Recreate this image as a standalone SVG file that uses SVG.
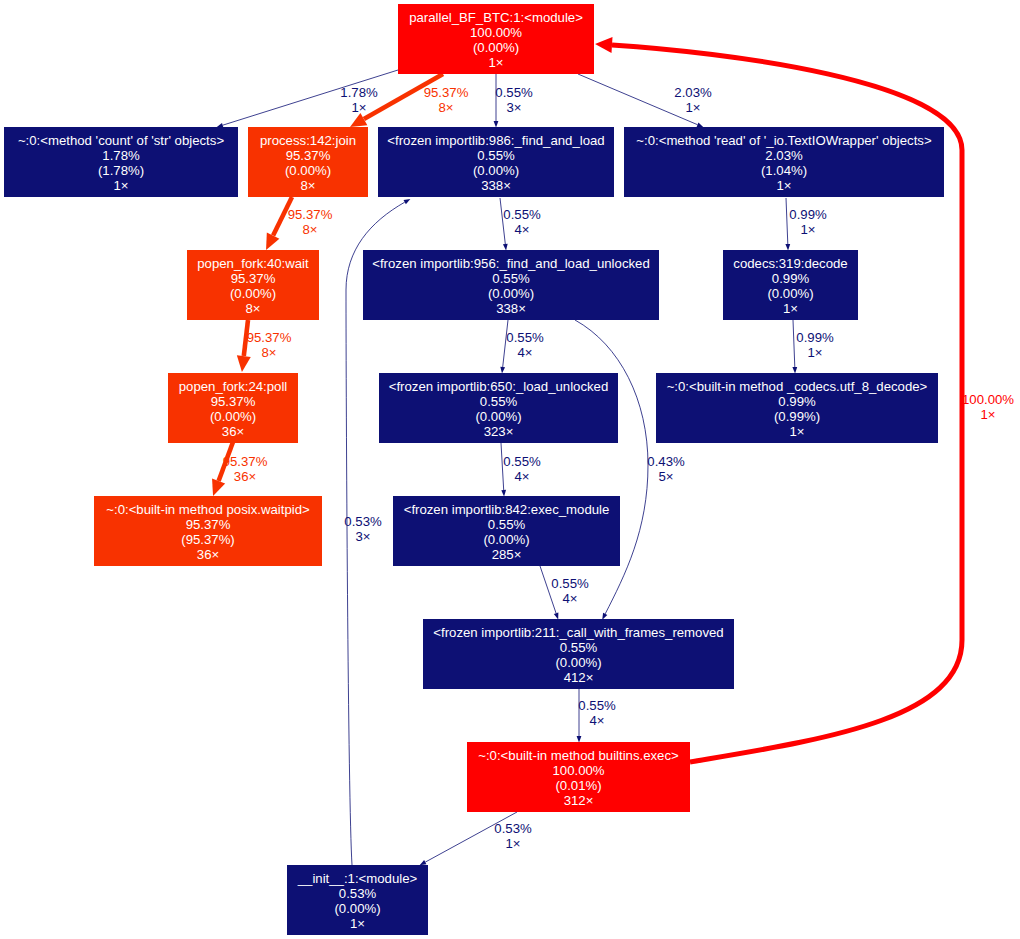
<svg xmlns="http://www.w3.org/2000/svg" width="1020" height="939" viewBox="0 0 1020 939">
<style>
text{font-family:"Liberation Sans",Arial,sans-serif;font-size:13.2px;text-anchor:middle}
.nt{fill:#ffffff}
.blue rect{fill:#0d1074}
.orange rect{fill:#f83200}
.red rect{fill:#ff0000}
.eb{fill:none;stroke:#0d1074;stroke-width:0.8}
.eo{fill:none;stroke:#f83200;stroke-width:4.6}
.er{fill:none;stroke:#ff0000;stroke-width:5}
.lb{fill:#0d1074}
.lo{fill:#f83200}
.lr{fill:#ff0000}
</style>
<defs>
<marker id="ab" markerUnits="userSpaceOnUse" markerWidth="8" markerHeight="8" refX="0" refY="4" orient="auto" overflow="visible"><path d="M0,1.6 L6.5,4 L0,6.4 z" fill="#0d1074"/></marker>
<marker id="ao" markerUnits="userSpaceOnUse" markerWidth="18" markerHeight="16" refX="0" refY="8" orient="auto" overflow="visible"><path d="M0,1 L16,8 L0,15 z" fill="#f83200"/></marker>
<marker id="ar" markerUnits="userSpaceOnUse" markerWidth="19" markerHeight="18" refX="0" refY="9" orient="auto" overflow="visible"><path d="M0,1 L17,9 L0,17 z" fill="#ff0000"/></marker>
</defs>
<rect width="1020" height="939" fill="#ffffff"/>
<g id="edges">
<path class="eb" d="M398,70 L222.7,125.2" marker-end="url(#ab)"/>
<text class="lb" x="359" y="96.5">1.78%</text><text class="lb" x="359" y="111.5">1×</text>
<path class="eo" d="M443,74 L363.9,119.1" marker-end="url(#ao)"/>
<text class="lo" x="446" y="97">95.37%</text><text class="lo" x="446" y="112">8×</text>
<path class="eb" d="M496,74 L496,121" marker-end="url(#ab)"/>
<text class="lb" x="514" y="97">0.55%</text><text class="lb" x="514" y="112">3×</text>
<path class="eb" d="M578,74 L697.5,124.7" marker-end="url(#ab)"/>
<text class="lb" x="693" y="96.5">2.03%</text><text class="lb" x="693" y="111.5">1×</text>
<path class="eo" d="M292,197 L273.1,235.6" marker-end="url(#ao)"/>
<text class="lo" x="310" y="219">95.37%</text><text class="lo" x="310" y="234">8×</text>
<path class="eb" d="M500,198 L505.3,244" marker-end="url(#ab)"/>
<text class="lb" x="522" y="219">0.55%</text><text class="lb" x="522" y="234">4×</text>
<path class="eb" d="M786,198 L787.8,244" marker-end="url(#ab)"/>
<text class="lb" x="808" y="219">0.99%</text><text class="lb" x="808" y="234">1×</text>
<path class="eo" d="M248,320 L243.8,356.1" marker-end="url(#ao)"/>
<text class="lo" x="269" y="342">95.37%</text><text class="lo" x="269" y="357">8×</text>
<path class="eb" d="M508,320 L502.7,367" marker-end="url(#ab)"/>
<text class="lb" x="525" y="342">0.55%</text><text class="lb" x="525" y="357">4×</text>
<path class="eb" d="M793,320 L794.8,367" marker-end="url(#ab)"/>
<text class="lb" x="815" y="342">0.99%</text><text class="lb" x="815" y="357">1×</text>
<path class="eb" d="M575,320 C620,345 648,400 648,465 C648,530 625,575 605.2,613.9" marker-end="url(#ab)"/>
<text class="lb" x="666" y="465.5">0.43%</text><text class="lb" x="666" y="480.5">5×</text>
<path class="eo" d="M233,442 L218.6,481" marker-end="url(#ao)"/>
<text class="lo" x="245" y="465.5">95.37%</text><text class="lo" x="245" y="480.5">36×</text>
<path class="eb" d="M501,443 L503.7,490" marker-end="url(#ab)"/>
<text class="lb" x="522" y="465.5">0.55%</text><text class="lb" x="522" y="480.5">4×</text>
<path class="eb" d="M352,865 C348,800 346,400 346,290 C346,250 370,222 404.7,202.2" marker-end="url(#ab)"/>
<text class="lb" x="363" y="526">0.53%</text><text class="lb" x="363" y="541">3×</text>
<path class="eb" d="M540,566 L556.1,613.3" marker-end="url(#ab)"/>
<text class="lb" x="570" y="587.5">0.55%</text><text class="lb" x="570" y="602.5">4×</text>
<path class="eb" d="M579,689 L579,736" marker-end="url(#ab)"/>
<text class="lb" x="597" y="710">0.55%</text><text class="lb" x="597" y="725">4×</text>
<path class="eb" d="M517,812 L425.3,862.1" marker-end="url(#ab)"/>
<text class="lb" x="513" y="832.5">0.53%</text><text class="lb" x="513" y="847.5">1×</text>
<path class="er" d="M690,762 C820,740 962,720 962,640 L962,150 C962,80 720,52 612,45" marker-end="url(#ar)"/>
<text class="lr" x="988" y="404">100.00%</text><text class="lr" x="988" y="419">1×</text>
</g>
<g id="n1" class="red"><rect x="398" y="4" width="196" height="70"/>
<text class="nt" x="496" y="21.5">parallel_BF_BTC:1:&lt;module&gt;</text><text class="nt" x="496" y="36.5">100.00%</text><text class="nt" x="496" y="51.5">(0.00%)</text><text class="nt" x="496" y="66.5">1×</text></g>
<g id="n2" class="blue"><rect x="4" y="127" width="234" height="70"/>
<text class="nt" x="121" y="144.5">~:0:&lt;method 'count' of 'str' objects&gt;</text><text class="nt" x="121" y="159.5">1.78%</text><text class="nt" x="121" y="174.5">(1.78%)</text><text class="nt" x="121" y="189.5">1×</text></g>
<g id="n3" class="orange"><rect x="248" y="127" width="120" height="70"/>
<text class="nt" x="308" y="144.5">process:142:join</text><text class="nt" x="308" y="159.5">95.37%</text><text class="nt" x="308" y="174.5">(0.00%)</text><text class="nt" x="308" y="189.5">8×</text></g>
<g id="n4" class="blue"><rect x="378" y="127" width="236" height="70"/>
<text class="nt" x="496" y="144.5">&lt;frozen importlib:986:_find_and_load</text><text class="nt" x="496" y="159.5">0.55%</text><text class="nt" x="496" y="174.5">(0.00%)</text><text class="nt" x="496" y="189.5">338×</text></g>
<g id="n5" class="blue"><rect x="624" y="127" width="320" height="70"/>
<text class="nt" x="784" y="144.5">~:0:&lt;method 'read' of '_io.TextIOWrapper' objects&gt;</text><text class="nt" x="784" y="159.5">2.03%</text><text class="nt" x="784" y="174.5">(1.04%)</text><text class="nt" x="784" y="189.5">1×</text></g>
<g id="n6" class="orange"><rect x="187" y="250" width="132" height="70"/>
<text class="nt" x="253" y="267.5">popen_fork:40:wait</text><text class="nt" x="253" y="282.5">95.37%</text><text class="nt" x="253" y="297.5">(0.00%)</text><text class="nt" x="253" y="312.5">8×</text></g>
<g id="n7" class="blue"><rect x="363" y="250" width="296" height="70"/>
<text class="nt" x="511" y="267.5">&lt;frozen importlib:956:_find_and_load_unlocked</text><text class="nt" x="511" y="282.5">0.55%</text><text class="nt" x="511" y="297.5">(0.00%)</text><text class="nt" x="511" y="312.5">338×</text></g>
<g id="n8" class="blue"><rect x="723" y="250" width="135" height="70"/>
<text class="nt" x="790.5" y="267.5">codecs:319:decode</text><text class="nt" x="790.5" y="282.5">0.99%</text><text class="nt" x="790.5" y="297.5">(0.00%)</text><text class="nt" x="790.5" y="312.5">1×</text></g>
<g id="n9" class="orange"><rect x="168" y="373" width="130" height="70"/>
<text class="nt" x="233" y="390.5">popen_fork:24:poll</text><text class="nt" x="233" y="405.5">95.37%</text><text class="nt" x="233" y="420.5">(0.00%)</text><text class="nt" x="233" y="435.5">36×</text></g>
<g id="n10" class="blue"><rect x="379" y="373" width="239" height="70"/>
<text class="nt" x="498.5" y="390.5">&lt;frozen importlib:650:_load_unlocked</text><text class="nt" x="498.5" y="405.5">0.55%</text><text class="nt" x="498.5" y="420.5">(0.00%)</text><text class="nt" x="498.5" y="435.5">323×</text></g>
<g id="n11" class="blue"><rect x="656" y="373" width="282" height="70"/>
<text class="nt" x="797" y="390.5">~:0:&lt;built-in method _codecs.utf_8_decode&gt;</text><text class="nt" x="797" y="405.5">0.99%</text><text class="nt" x="797" y="420.5">(0.99%)</text><text class="nt" x="797" y="435.5">1×</text></g>
<g id="n12" class="orange"><rect x="94" y="496" width="228" height="70"/>
<text class="nt" x="208" y="513.5">~:0:&lt;built-in method posix.waitpid&gt;</text><text class="nt" x="208" y="528.5">95.37%</text><text class="nt" x="208" y="543.5">(95.37%)</text><text class="nt" x="208" y="558.5">36×</text></g>
<g id="n13" class="blue"><rect x="393" y="496" width="227" height="70"/>
<text class="nt" x="506.5" y="513.5">&lt;frozen importlib:842:exec_module</text><text class="nt" x="506.5" y="528.5">0.55%</text><text class="nt" x="506.5" y="543.5">(0.00%)</text><text class="nt" x="506.5" y="558.5">285×</text></g>
<g id="n14" class="blue"><rect x="423" y="619" width="311" height="70"/>
<text class="nt" x="578.5" y="636.5">&lt;frozen importlib:211:_call_with_frames_removed</text><text class="nt" x="578.5" y="651.5">0.55%</text><text class="nt" x="578.5" y="666.5">(0.00%)</text><text class="nt" x="578.5" y="681.5">412×</text></g>
<g id="n15" class="red"><rect x="467" y="742" width="223" height="70"/>
<text class="nt" x="578.5" y="759.5">~:0:&lt;built-in method builtins.exec&gt;</text><text class="nt" x="578.5" y="774.5">100.00%</text><text class="nt" x="578.5" y="789.5">(0.01%)</text><text class="nt" x="578.5" y="804.5">312×</text></g>
<g id="n16" class="blue"><rect x="287" y="865" width="141" height="70"/>
<text class="nt" x="357.5" y="882.5">__init__:1:&lt;module&gt;</text><text class="nt" x="357.5" y="897.5">0.53%</text><text class="nt" x="357.5" y="912.5">(0.00%)</text><text class="nt" x="357.5" y="927.5">1×</text></g>
</svg>
